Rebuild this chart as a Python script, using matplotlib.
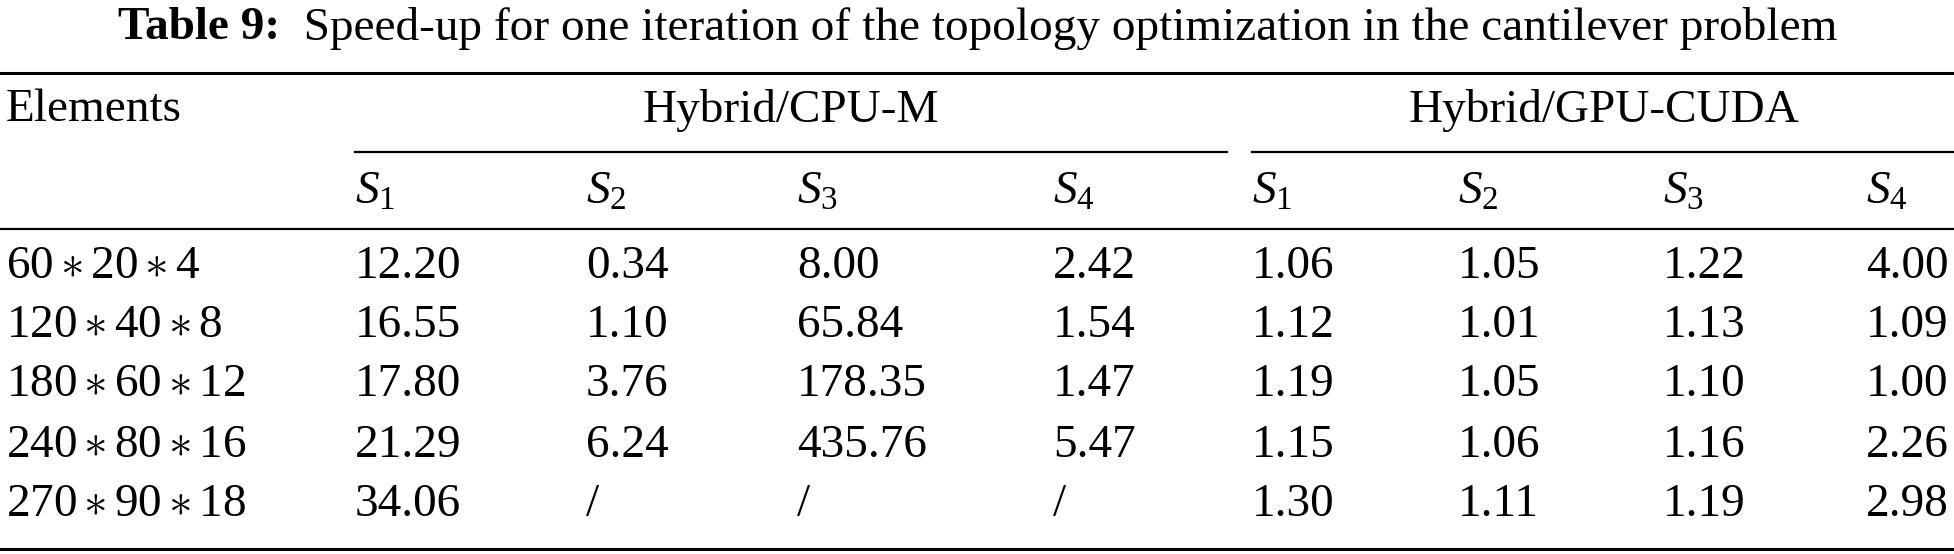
import matplotlib
matplotlib.use("Agg")
import matplotlib.pyplot as plt

plt.rcParams['mathtext.fontset'] = 'custom'
plt.rcParams['mathtext.rm'] = 'Liberation Serif'
plt.rcParams['mathtext.it'] = 'Liberation Serif:italic'
plt.rcParams['mathtext.bf'] = 'Liberation Serif:bold'

title_bold = "Table 9:"
title_rest = "  Speed-up for one iteration of the topology optimization in the cantilever problem"
groups = ["Hybrid/CPU-M", "Hybrid/GPU-CUDA"]
sub_headers = [r"$S_\mathit{1}$", r"$S_\mathit{2}$", r"$S_\mathit{3}$", r"$S_\mathit{4}$"] * 2
elements = [r"$60\ast20\ast4$", r"$120\ast40\ast8$", r"$180\ast60\ast12$",
            r"$240\ast80\ast16$", r"$270\ast90\ast18$"]
cpu_s1 = ["12.20", "16.55", "17.80", "21.29", "34.06"]
cpu_s2 = ["0.34", "1.10", "3.76", "6.24", "/"]
cpu_s3 = ["8.00", "65.84", "178.35", "435.76", "/"]
cpu_s4 = ["2.42", "1.54", "1.47", "5.47", "/"]
gpu_s1 = ["1.06", "1.12", "1.19", "1.15", "1.30"]
gpu_s2 = ["1.05", "1.01", "1.05", "1.06", "1.11"]
gpu_s3 = ["1.22", "1.13", "1.10", "1.16", "1.19"]
gpu_s4 = ["4.00", "1.09", "1.00", "2.26", "2.98"]
columns = [cpu_s1, cpu_s2, cpu_s3, cpu_s4, gpu_s1, gpu_s2, gpu_s3, gpu_s4]

W, H = 1954, 554
fig = plt.figure(figsize=(W/100, H/100), dpi=100)
ax = fig.add_axes([0, 0, 1, 1])
ax.set_xlim(0, W); ax.set_ylim(H, 0); ax.axis('off')

fs = 34
kw = dict(fontsize=fs, family='Liberation Serif', va='center', color='black')

t1 = ax.text(118, 28, title_bold, fontweight='bold', ha='left', **kw)
fig.canvas.draw()
bb = t1.get_window_extent()
ax.text(118 + bb.width, 28, title_rest, ha='left', **kw)

ax.plot([0, W], [73, 73], color='black', lw=2.2)
ax.plot([355, 1227], [152, 152], color='black', lw=1.6)
ax.plot([1252, W], [152, 152], color='black', lw=1.6)
ax.plot([0, W], [229, 229], color='black', lw=1.6)
ax.plot([0, W], [549, 549], color='black', lw=2.2)

ax.text(6, 110, "Elements", ha='left', **kw)
ax.text(791, 110, groups[0], ha='center', **kw)
ax.text(1604, 110, groups[1], ha='center', **kw)

col_x = [355, 586, 797, 1053, 1252, 1458, 1663, 1866]
for x, s in zip(col_x, sub_headers):
    ax.text(x, 192, s, ha='left', **kw)

row_y = [267, 326, 385, 446, 505]
for y, e in zip(row_y, elements):
    ax.text(6, y, e, ha='left', **kw)
for x, col in zip(col_x, columns):
    for y, v in zip(row_y, col):
        ax.text(x, y, v, ha='left', **kw)

fig.savefig("out.png", dpi=100)
